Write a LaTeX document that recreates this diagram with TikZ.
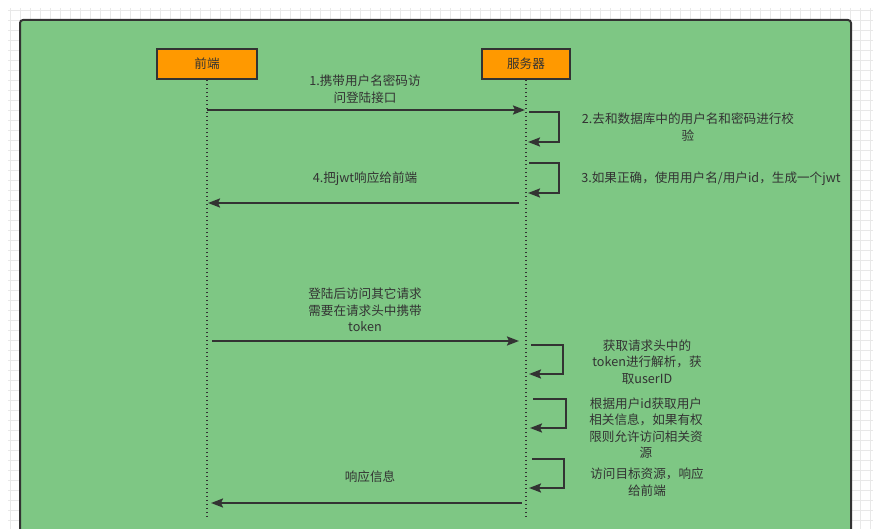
\documentclass[tikz,border=0pt]{standalone}
\usepackage{fontspec}
\setmainfont{Noto Sans CJK SC}
\usetikzlibrary{arrows.meta}
\definecolor{bggreen}{RGB}{126,199,132}
\definecolor{boxorange}{RGB}{255,153,0}
\definecolor{linec}{RGB}{51,51,51}
\definecolor{gridc}{RGB}{232,232,232}
\tikzset{
  actor/.style={draw=linec, line width=1.8pt, fill=boxorange, minimum height=30pt, inner sep=0pt, font=\fontsize{12.6}{14}\selectfont, text=linec},
  lifeline/.style={draw=linec, line width=1.6pt, dash pattern=on 1.6pt off 2.4pt},
  msg/.style={draw=linec, line width=2pt, -{Stealth[length=12pt,width=9pt,inset=2pt]}},
  lbl/.style={align=center, font=\fontsize{12.6}{16.5}\selectfont, text=linec, inner sep=0pt},
}
\begin{document}
\begin{tikzpicture}[x=1pt,y=-1pt]
\useasboundingbox (0,0) rectangle (873,529);
\begin{scope}
\clip (0,0) rectangle (873,529);
\foreach \gx in {10,20,...,870} \draw[gridc, line width=0.8pt] (\gx,8) -- (\gx,529);
\foreach \gy in {10,20,...,520} \draw[gridc, line width=0.8pt] (8,\gy) -- (873,\gy);
\draw[linec, line width=2pt, fill=bggreen, rounded corners=3pt] (20,20) rectangle (851,545);
\end{scope}

\node[actor, minimum width=100pt] (fe) at (207,64) {前端};
\node[actor, minimum width=88pt] (sv) at (526,64) {服务器};

\coordinate (feEnd) at (207,519);
\coordinate (svEnd) at (526,519);
\draw[lifeline] (fe.south) -- (feEnd);
\draw[lifeline] (sv.south) -- (svEnd);

% message 1
\coordinate (m1a) at (207,110);
\coordinate (m1b) at (525,110);
\draw[msg] (m1a) -- (m1b);
\node[lbl] (l1) at (365,89) {1.携带用户名密码访\\问登陆接口};

% self loop 2
\coordinate (s2a) at (529,112);
\coordinate (s2b) at (559,112);
\coordinate (s2c) at (559,142);
\coordinate (s2d) at (528,142);
\draw[msg] (s2a) -- (s2b) -- (s2c) -- (s2d);
\node[lbl] (l2) at (688,127) {2.去和数据库中的用户名和密码进行校\\验};

% self loop 3
\coordinate (s3a) at (529,163);
\coordinate (s3b) at (559,163);
\coordinate (s3c) at (559,193);
\coordinate (s3d) at (528,193);
\draw[msg] (s3a) -- (s3b) -- (s3c) -- (s3d);
\node[lbl] (l3) at (711,179) {3.如果正确，使用用户名/用户id，生成一个jwt};

% message 4
\coordinate (m4a) at (519,203);
\coordinate (m4b) at (208,203);
\draw[msg] (m4a) -- (m4b);
\node[lbl] (l4) at (365,179) {4.把jwt响应给前端};

% message 5
\coordinate (m5a) at (212,341);
\coordinate (m5b) at (519,341);
\draw[msg] (m5a) -- (m5b);
\node[lbl] (l5) at (365,310) {登陆后访问其它请求\\需要在请求头中携带\\token};

% self loop A
\coordinate (sAa) at (531,345);
\coordinate (sAb) at (563,345);
\coordinate (sAc) at (563,374);
\coordinate (sAd) at (529,374);
\draw[msg] (sAa) -- (sAb) -- (sAc) -- (sAd);
\node[lbl] (lA) at (647,362) {获取请求头中的\\token进行解析，获\\取userID};

% self loop B
\coordinate (sBa) at (533,399);
\coordinate (sBb) at (566,399);
\coordinate (sBc) at (566,428);
\coordinate (sBd) at (530,428);
\draw[msg] (sBa) -- (sBb) -- (sBc) -- (sBd);
\node[lbl] (lB) at (646,428) {根据用户id获取用户\\相关信息，如果有权\\限则允许访问相关资\\源};

% self loop C
\coordinate (sCa) at (532,459);
\coordinate (sCb) at (564,459);
\coordinate (sCc) at (564,488);
\coordinate (sCd) at (529,488);
\draw[msg] (sCa) -- (sCb) -- (sCc) -- (sCd);
\node[lbl] (lC) at (647,482) {访问目标资源，响应\\给前端};

% message 6
\coordinate (m6a) at (522,503);
\coordinate (m6b) at (211,503);
\draw[msg] (m6a) -- (m6b);
\node[lbl] (l6) at (370,477) {响应信息};
\end{tikzpicture}
\end{document}
